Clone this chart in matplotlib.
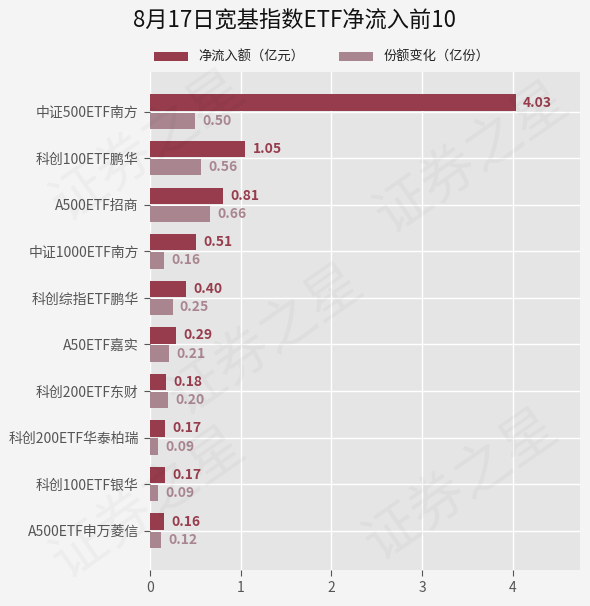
import matplotlib.pyplot as plt
import numpy as np

plt.rcParams['font.family'] = ['Noto Sans CJK SC', 'DejaVu Sans']

# data
funds = ['中证500ETF南方', '科创100ETF鹏华', 'A500ETF招商', '中证1000ETF南方',
         '科创综指ETF鹏华', 'A50ETF嘉实', '科创200ETF东财', '科创200ETF华泰柏瑞',
         '科创100ETF银华', 'A500ETF申万菱信']
net_inflow = [4.03, 1.05, 0.81, 0.51, 0.40, 0.29, 0.18, 0.17, 0.17, 0.16]
share_change = [0.50, 0.56, 0.66, 0.16, 0.25, 0.21, 0.20, 0.09, 0.09, 0.12]

c_net = '#963c4c'
c_share = '#a9868f'

fig = plt.figure(figsize=(5.9, 6.06), dpi=100, facecolor='#f4f4f4')
ax = fig.add_axes([0.254, 0.059, 0.729, 0.822])
ax.set_facecolor('#e5e5e5')

# faint watermark
for (wx, wy) in [(0.25, 0.76), (0.80, 0.74), (0.45, 0.44), (0.25, 0.17), (0.78, 0.20)]:
    fig.text(wx, wy, '证券之星', fontsize=40, color='#000000', alpha=0.03, rotation=35,
             ha='center', va='center', zorder=0)

y = np.arange(len(funds))
h = 0.35
b1 = ax.barh(y - 0.195, net_inflow, height=h, color=c_net, label='净流入额（亿元）', zorder=3)
b2 = ax.barh(y + 0.195, share_change, height=h, color=c_share, label='份额变化（亿份）', zorder=3)

for yi, v in zip(y, net_inflow):
    ax.text(v + 0.08, yi - 0.195, f'{v:.2f}', color=c_net, fontsize=10, fontweight='bold',
            va='center', ha='left', zorder=4)
for yi, v in zip(y, share_change):
    ax.text(v + 0.08, yi + 0.195, f'{v:.2f}', color=c_share, fontsize=10, fontweight='bold',
            va='center', ha='left', zorder=4)

ax.set_yticks(y)
ax.set_yticklabels(funds)
ax.set_ylim(9.85, -0.85)
ax.set_xlim(0, 4.74)
ax.set_xticks([0, 1, 2, 3, 4])
ax.grid(True, color='white', linewidth=1, zorder=1)
ax.set_axisbelow(True)
for sp in ax.spines.values():
    sp.set_visible(False)
ax.tick_params(axis='both', colors='#555555', labelsize=10, length=4, width=0.8)
ax.tick_params(axis='y', pad=4)

fig.suptitle('8月17日宽基指数ETF净流入前10', fontsize=16, y=0.985, color='#111111')
fig.legend(handles=[b1, b2], loc='center', bbox_to_anchor=(0.545, 0.905), ncol=2,
           frameon=False, fontsize=9.5, handlelength=2.6, handleheight=0.7,
           columnspacing=2.6, labelcolor='#222222')

plt.savefig('out.png', dpi=100, facecolor=fig.get_facecolor())
